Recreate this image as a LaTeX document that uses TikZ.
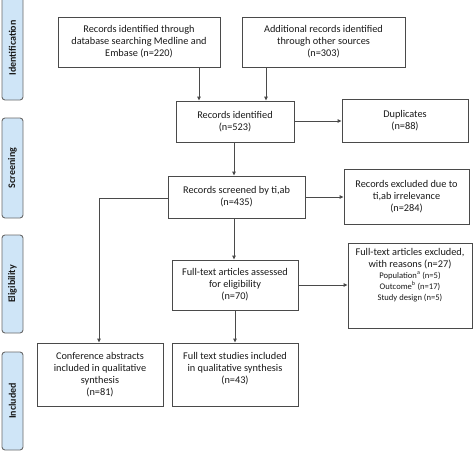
\documentclass[tikz,border=0pt]{standalone}
\usepackage{fontspec}
\setmainfont{Carlito}
\usetikzlibrary{arrows.meta}
\definecolor{boxline}{HTML}{4A4A4A}
\definecolor{sidefill}{HTML}{CFE5F7}
\definecolor{sideline}{HTML}{6A6A6A}
\begin{document}
\begin{tikzpicture}[x=1pt,y=-1pt,
  box/.style={draw=boxline, line width=0.9pt, rectangle, align=center, inner sep=1pt,
    font=\fontsize{10.3}{12}\selectfont, text=black!90},
  sidebar/.style={draw=sideline, fill=sidefill, line width=0.9pt, rounded corners=3pt,
    minimum width=21pt},
  sidetext/.style={rotate=90, font=\fontsize{10}{11}\selectfont\bfseries, text=black!90},
  conn/.style={draw=boxline, line width=0.9pt, -{Triangle[length=4pt,width=3.6pt]}}
]
\useasboundingbox (0,0) rectangle (474,452);
% side bars
\node[sidebar, minimum height=104pt] (sid) at (12.5,48) {};
\node[sidetext] (sidt) at (sid.center) {Identification};
\node[sidebar, minimum height=100pt] (sscr) at (12.5,168) {};
\node[sidetext] (sscrt) at (sscr.center) {Screening};
\node[sidebar, minimum height=98pt] (selg) at (12.5,284) {};
\node[sidetext] (selgt) at (selg.center) {Eligibility};
\node[sidebar, minimum height=98pt] (sinc) at (12.5,401) {};
\node[sidetext] (sinct) at (sinc.center) {Included};
% boxes
\node[box, minimum width=162pt, minimum height=50pt] (db) at (139,42)
  {Records identified through\\database searching Medline and\\Embase (n=220)};
\node[box, minimum width=163pt, minimum height=50pt] (other) at (323.5,42)
  {Additional records identified\\through other sources\\(n=303)};
\node[box, minimum width=118pt, minimum height=41pt] (ident) at (235,121.5)
  {Records identified\\(n=523)};
\node[box, minimum width=126pt, minimum height=43pt] (dup) at (405,120.5)
  {Duplicates\\(n=88)};
\node[box, minimum width=137pt, minimum height=42pt] (screen) at (236.5,197)
  {Records screened by ti,ab\\(n=435)};
\node[box, minimum width=125pt, minimum height=55pt] (excl) at (406.5,196.5)
  {Records excluded due to\\ti,ab irrelevance\\(n=284)};
\node[box, minimum width=126pt, minimum height=50pt] (full) at (235,285)
  {Full-text articles assessed\\for eligibility\\(n=70)};
\node[box, minimum width=124pt, minimum height=85pt, text depth=22pt] (fexcl) at (410,285.5)
  {Full-text articles excluded,\\with reasons (n=27)\\[-1pt]
   {\fontsize{8.6}{11}\selectfont Population\textsuperscript{a} (n=5)}\\[-1pt]
   {\fontsize{8.6}{11}\selectfont Outcome\textsuperscript{b} (n=17)}\\[-1pt]
   {\fontsize{8.6}{11}\selectfont Study design (n=5)}};
\node[box, minimum width=126pt, minimum height=63pt] (conf) at (100,374.5)
  {Conference abstracts\\included in qualitative\\synthesis\\(n=81)};
\node[box, minimum width=126pt, minimum height=63pt, text depth=14pt] (inc) at (235,374.5)
  {Full text studies included\\in qualitative synthesis\\(n=43)};
% connectors
\draw[conn] (db.south -| 199,0) -- (ident.north -| 199,0);
\draw[conn] (other.south -| 266,0) -- (ident.north -| 266,0);
\draw[conn] (ident.east |- 0,121) -- (dup.west |- 0,121);
\draw[conn] (ident.south -| 234,0) -- (screen.north -| 234,0);
\draw[conn] (screen.east |- 0,197) -- (excl.west |- 0,197);
\draw[conn] (screen.south -| 234,0) -- (full.north -| 234,0);
\draw[conn] (screen.west |- 0,198) -| (conf.north -| 99,0);
\draw[conn] (full.east |- 0,285) -- (fexcl.west |- 0,285);
\draw[conn] (full.south -| 235,0) -- (inc.north -| 235,0);
\end{tikzpicture}
\end{document}
